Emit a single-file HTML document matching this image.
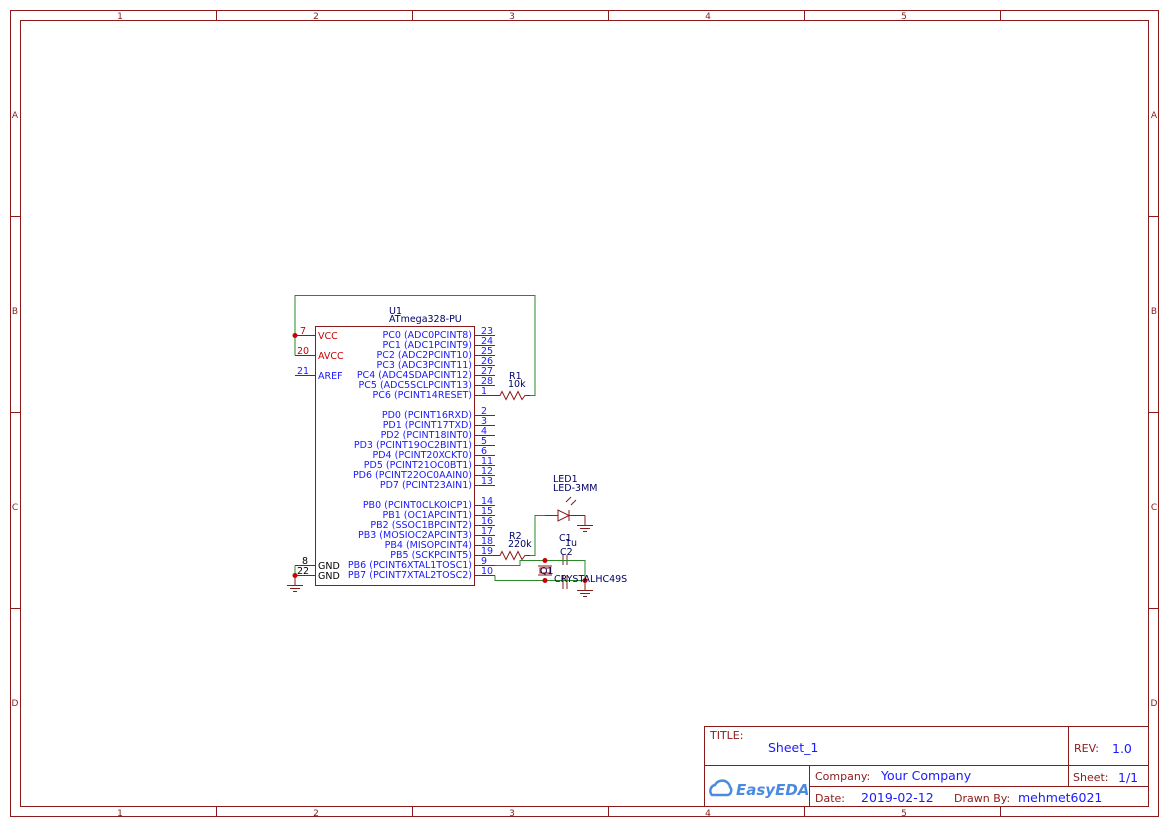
<!DOCTYPE html>
<html><head><meta charset="utf-8"><style>body{margin:0;background:#fff}svg{display:block}text{font-family:"DejaVu Sans","Liberation Sans",sans-serif}</style></head><body>
<svg width="1169" height="827" viewBox="0 0 1169 827" xmlns="http://www.w3.org/2000/svg">
<g fill="none" stroke="#8b1a1a" stroke-width="1">
<rect x="10.5" y="10.5" width="1148" height="806"/>
<rect x="20.5" y="20.5" width="1128" height="786"/>
<path d="M216.5 10v10M412.5 10v10M608.5 10v10M804.5 10v10M1000.5 10v10M216.5 807v10M412.5 807v10M608.5 807v10M804.5 807v10M1000.5 807v10"/>
<path d="M10 216.5h10M10 412.5h10M10 608.5h10M1149 216.5h10M1149 412.5h10M1149 608.5h10"/>
</g>
<g fill="#8b1a1a" font-size="9" text-anchor="middle">
<text x="120" y="19">1</text><text x="316" y="19">2</text><text x="512" y="19">3</text><text x="708" y="19">4</text><text x="904" y="19">5</text>
<text x="120" y="816">1</text><text x="316" y="816">2</text><text x="512" y="816">3</text><text x="708" y="816">4</text><text x="904" y="816">5</text>
<text x="15" y="118">A</text><text x="15" y="314">B</text><text x="15" y="510">C</text><text x="15" y="706">D</text>
<text x="1154" y="118">A</text><text x="1154" y="314">B</text><text x="1154" y="510">C</text><text x="1154" y="706">D</text>
</g>
<g fill="none" stroke="#8b1a1a">
<rect x="704.5" y="726.5" width="444" height="80"/>
<path d="M704 765.5h444M1068.5 726v60M809.5 765v42M809 786.5h339"/>
</g>
<g font-size="11" fill="#8b1a1a"><text x="710" y="739">TITLE:</text><text x="1074" y="752">REV:</text><text x="815" y="780">Company:</text><text x="1073" y="781">Sheet:</text><text x="815" y="802">Date:</text><text x="954" y="802">Drawn By:</text></g>
<g font-size="12.5" fill="#1a1aff"><text x="768" y="752">Sheet_1</text><text x="1112" y="753">1.0</text><text x="881" y="780">Your Company</text><text x="1118" y="782">1/1</text><text x="861" y="802">2019-02-12</text><text x="1018" y="802">mehmet6021</text></g>
<text x="736" y="795" font-size="15" font-style="italic" font-weight="bold" fill="#4a8ae0">EasyEDA</text>
<path d="M712 795 a6 6 0 0 1 3-10 a8 8 0 0 1 15 2 a5 5 0 0 1 -2 8 z" fill="none" stroke="#4a8ae0" stroke-width="2.5"/>
<rect x="315.5" y="326.5" width="159" height="259" fill="none" stroke="#8b1a1a"/>
<g stroke="#8b1a1a">
<path d="M295 335.5h20M295 355.5h20M295 375.5h20M295 565.5h20M295 575.5h20"/>
<path d="M475 335.5h20M475 345.5h20M475 355.5h20M475 365.5h20M475 375.5h20M475 385.5h20M475 395.5h20M475 415.5h20M475 425.5h20M475 435.5h20M475 445.5h20M475 455.5h20M475 465.5h20M475 475.5h20M475 485.5h20M475 505.5h20M475 515.5h20M475 525.5h20M475 535.5h20M475 545.5h20M475 555.5h20M475 565.5h20M475 575.5h20"/>
<path d="M495 395.5h5l2-4 4 8 4-8 4 8 4-8 4 8 3-4h5" fill="none"/>
<path d="M495 555.5h5l2-4 4 8 4-8 4 8 4-8 4 8 3-4h5" fill="none"/>
<path d="M545 515.5h13 M558 510v11l11-5.5z M569 510v11 M569 515.5h16 M585 515.5v10 M577 525.5h16 M580 528.5h10 M583 531.5h4" fill="none"/>
<path d="M566 502l5-5M571 505l5-5" />
<path d="M295 575v10M287 585.5h16M290 588.5h10M293 591.5h4"/>
<path d="M585 580v10M577 590.5h16M580 593.5h10M583 596.5h4"/>
<path d="M538 566h14M538 575h14M540 568h10v5h-10z M563 555v10M567 555v10M563 575v14M567 575v14" fill="none"/>
</g>
<g stroke="#2a8a2a" fill="none">
<path d="M295 355.5v-60h240v100h-5"/>
<path d="M530 555.5h5v-40h10"/>
<path d="M495 565.5h25v-5h65v20"/>
<path d="M495 575.5v5h90"/>
<path d="M295 565.5v10"/>
</g>
<g fill="#cc0000"><circle cx="295" cy="335.5" r="2.5"/><circle cx="295" cy="575.5" r="2.5"/><circle cx="545" cy="560.5" r="2.5"/><circle cx="545" cy="580.5" r="2.5"/><circle cx="585" cy="580.5" r="2.5"/></g>
<g font-size="9.5" fill="#cc0000"><text x="300" y="334">7</text><text x="297" y="354">20</text><text x="318" y="339">VCC</text><text x="318" y="359">AVCC</text></g>
<g font-size="9.5" fill="#000"><text x="302" y="564">8</text><text x="297" y="574">22</text><text x="318" y="569">GND</text><text x="318" y="579">GND</text></g>
<g font-size="9.5" fill="#1a1aff"><text x="297" y="374">21</text><text x="318" y="379">AREF</text></g>
<g font-size="9.5" fill="#000066"><text x="389" y="314">U1</text><text x="389" y="322">ATmega328-PU</text><text x="509" y="379">R1</text><text x="508" y="387">10k</text><text x="509" y="539">R2</text><text x="508" y="547">220k</text><text x="553" y="482">LED1</text><text x="553" y="491">LED-3MM</text><text x="559" y="541">C1</text><text x="565" y="546">1u</text><text x="560" y="555">C2</text><text x="540" y="574">Q1</text><text x="554" y="582">CRYSTALHC49S</text></g>
<g font-size="9.5" fill="#1a1aff" text-anchor="end">
<text x="472" y="338">PC0 (ADC0PCINT8)</text><text x="472" y="348">PC1 (ADC1PCINT9)</text><text x="472" y="358">PC2 (ADC2PCINT10)</text><text x="472" y="368">PC3 (ADC3PCINT11)</text><text x="472" y="378">PC4 (ADC4SDAPCINT12)</text><text x="472" y="388">PC5 (ADC5SCLPCINT13)</text><text x="472" y="398">PC6 (PCINT14RESET)</text>
<text x="472" y="418">PD0 (PCINT16RXD)</text><text x="472" y="428">PD1 (PCINT17TXD)</text><text x="472" y="438">PD2 (PCINT18INT0)</text><text x="472" y="448">PD3 (PCINT19OC2BINT1)</text><text x="472" y="458">PD4 (PCINT20XCKT0)</text><text x="472" y="468">PD5 (PCINT21OC0BT1)</text><text x="472" y="478">PD6 (PCINT22OC0AAIN0)</text><text x="472" y="488">PD7 (PCINT23AIN1)</text>
<text x="472" y="508">PB0 (PCINT0CLKOICP1)</text><text x="472" y="518">PB1 (OC1APCINT1)</text><text x="472" y="528">PB2 (SSOC1BPCINT2)</text><text x="472" y="538">PB3 (MOSIOC2APCINT3)</text><text x="472" y="548">PB4 (MISOPCINT4)</text><text x="472" y="558">PB5 (SCKPCINT5)</text><text x="472" y="568">PB6 (PCINT6XTAL1TOSC1)</text><text x="472" y="578">PB7 (PCINT7XTAL2TOSC2)</text>
</g>
<g font-size="9.5" fill="#1a1aff"><text x="481" y="334">23</text><text x="481" y="344">24</text><text x="481" y="354">25</text><text x="481" y="364">26</text><text x="481" y="374">27</text><text x="481" y="384">28</text><text x="481" y="394">1</text>
<text x="481" y="414">2</text><text x="481" y="424">3</text><text x="481" y="434">4</text><text x="481" y="444">5</text><text x="481" y="454">6</text><text x="481" y="464">11</text><text x="481" y="474">12</text><text x="481" y="484">13</text>
<text x="481" y="504">14</text><text x="481" y="514">15</text><text x="481" y="524">16</text><text x="481" y="534">17</text><text x="481" y="544">18</text><text x="481" y="554">19</text><text x="481" y="564">9</text><text x="481" y="574">10</text></g>
</svg>
</body></html>
